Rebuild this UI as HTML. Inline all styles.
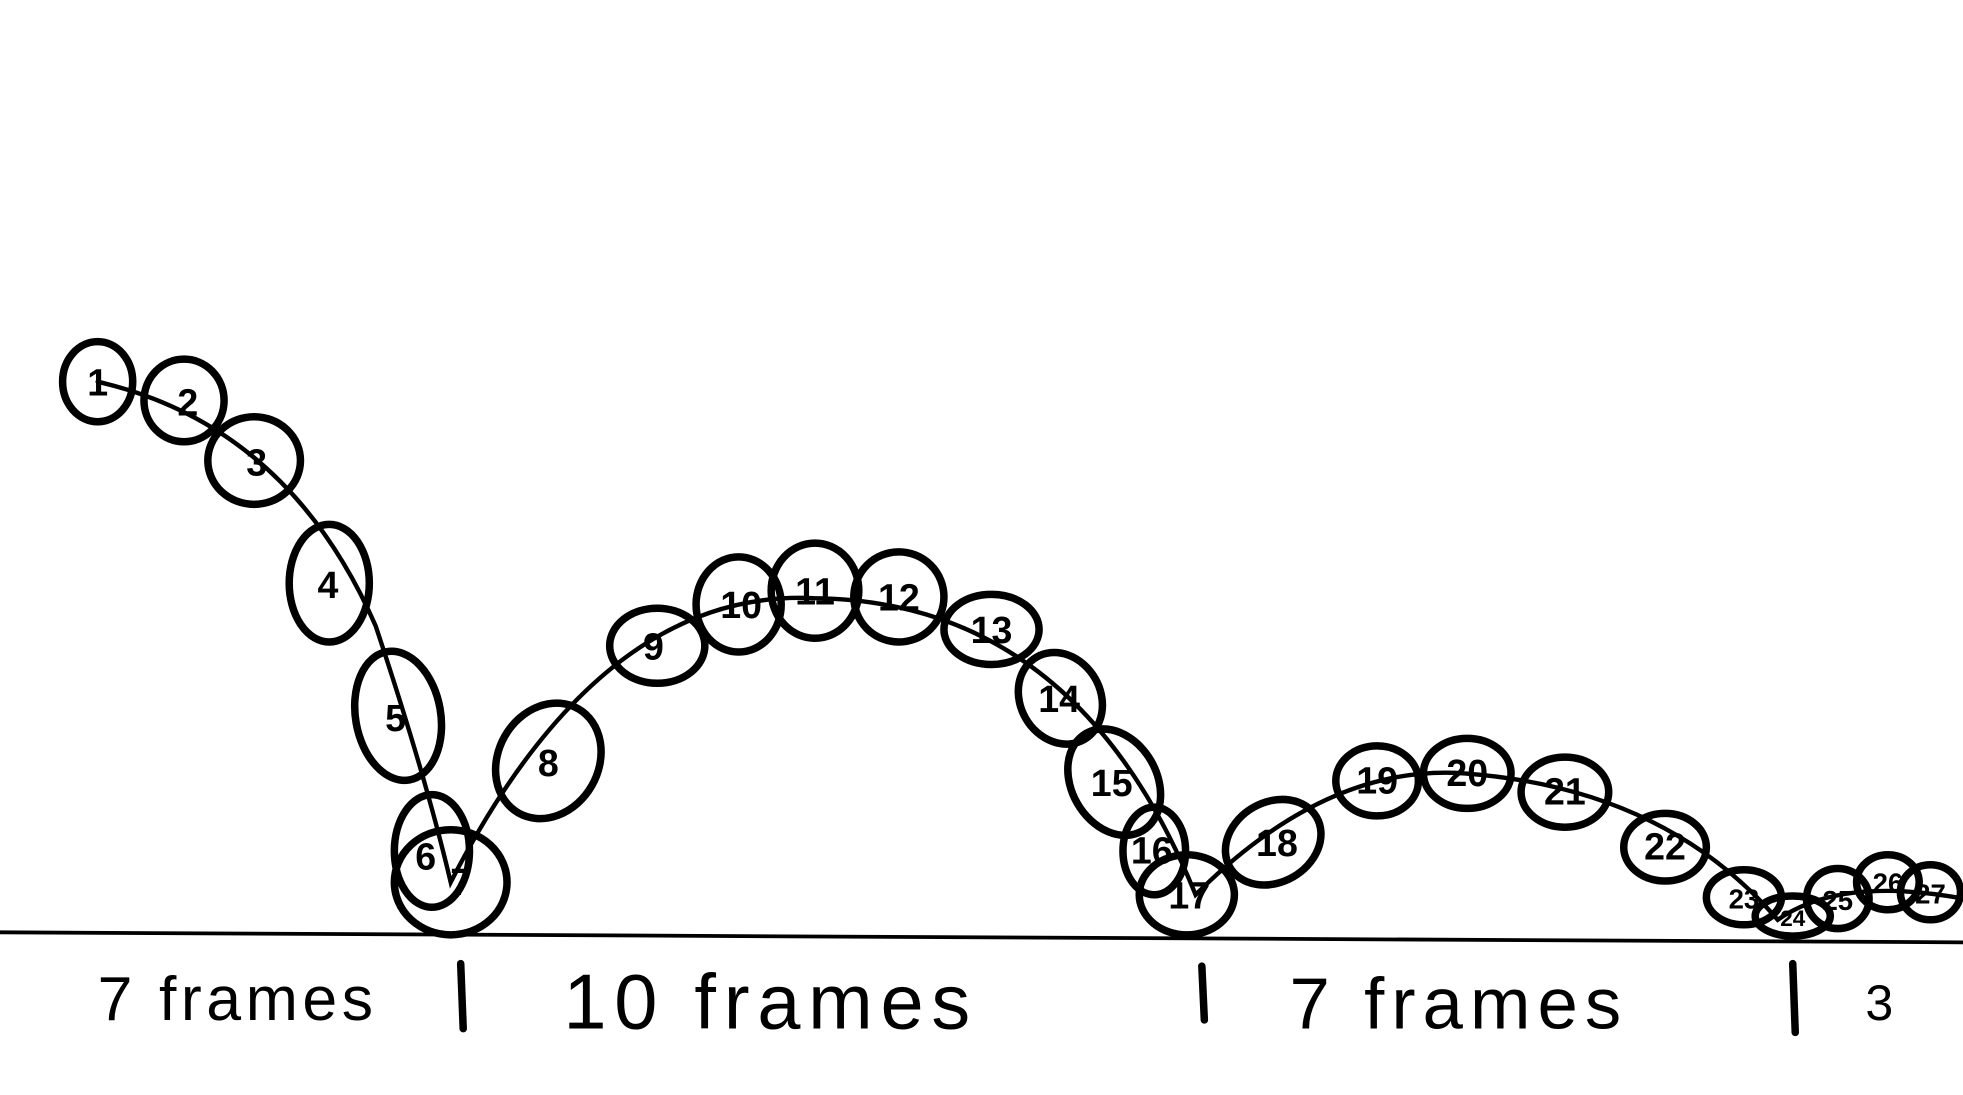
<!DOCTYPE html>
<html><head><meta charset="utf-8"><style>
html,body{margin:0;padding:0;background:#fff;width:1963px;height:1095px;overflow:hidden}
svg{display:block}
text{font-family:"Liberation Sans",sans-serif;fill:#000}
</style></head><body>
<svg width="1963" height="1095" viewBox="0 0 1568 875" preserveAspectRatio="none">
<g fill="none" stroke="#000" stroke-width="4" stroke-linecap="round">
<line x1="0" y1="745" x2="1568" y2="753" stroke-width="3"/>
<path d="M78 305 Q230 340 300 500 Q340 620 360 705 Q480 470 650 478 Q860 480 955 715 Q1060 610 1170 618 Q1330 630 1420 735 Q1470 700 1568 718" stroke-width="3.5"/>
<g stroke-width="6">
<ellipse cx="78" cy="305" rx="28" ry="32"/>
<ellipse cx="147" cy="320" rx="32" ry="33"/>
<ellipse cx="203" cy="368" rx="37" ry="35"/>
<ellipse cx="263" cy="466" rx="32" ry="47"/>
<ellipse cx="318" cy="572" rx="34" ry="52" transform="rotate(-10 318 572)"/>
<ellipse cx="345" cy="680" rx="30" ry="45"/>
<ellipse cx="360" cy="705" rx="45" ry="42"/>
<ellipse cx="438" cy="608" rx="40" ry="48" transform="rotate(30 438 608)"/>
<ellipse cx="525" cy="516" rx="38" ry="30"/>
<ellipse cx="590" cy="483" rx="34" ry="38"/>
<ellipse cx="651" cy="472" rx="35" ry="38"/>
<ellipse cx="718" cy="477" rx="36" ry="36"/>
<ellipse cx="792" cy="503" rx="38" ry="28"/>
<ellipse cx="847" cy="558" rx="32" ry="38" transform="rotate(-30 847 558)"/>
<ellipse cx="890" cy="625" rx="34" ry="45" transform="rotate(-30 890 625)"/>
<ellipse cx="922" cy="680" rx="25" ry="35"/>
<ellipse cx="948" cy="715" rx="38" ry="32"/>
<ellipse cx="1017" cy="673" rx="40" ry="32" transform="rotate(-30 1017 673)"/>
<ellipse cx="1100" cy="624" rx="33" ry="28"/>
<ellipse cx="1172" cy="618" rx="35" ry="28"/>
<ellipse cx="1250" cy="633" rx="35" ry="28"/>
<ellipse cx="1330" cy="677" rx="33" ry="27"/>
<ellipse cx="1393" cy="717" rx="30" ry="22"/>
<ellipse cx="1432" cy="732" rx="30" ry="16"/>
<ellipse cx="1468" cy="718" rx="25" ry="24"/>
<ellipse cx="1508" cy="705" rx="25" ry="22"/>
<ellipse cx="1542" cy="713" rx="24" ry="22"/>
</g>
<g stroke-width="6">
<line x1="368" y1="770" x2="370" y2="822"/>
<line x1="960" y1="772" x2="962" y2="815"/>
<line x1="1432" y1="770" x2="1434" y2="825"/>
</g>
</g>
<g font-size="30" font-weight="bold" text-anchor="middle">
<text x="78" y="316">1</text><text x="150" y="332">2</text><text x="205" y="380">3</text>
<text x="262" y="478">4</text><text x="316" y="584">5</text><text x="340" y="695">6</text>
<text x="368" y="715">7</text><text x="438" y="620">8</text><text x="522" y="527">9</text>
<text x="592" y="494">10</text><text x="651" y="483">11</text><text x="718" y="488">12</text>
<text x="792" y="514">13</text><text x="846" y="569">14</text><text x="888" y="636">15</text>
<text x="920" y="690">16</text><text x="950" y="726">17</text><text x="1020" y="684">18</text>
<text x="1100" y="634">19</text><text x="1172" y="628">20</text><text x="1250" y="643">21</text>
<text x="1330" y="687">22</text><text x="1393" y="726" font-size="22">23</text><text x="1432" y="740" font-size="18">24</text>
<text x="1468" y="727" font-size="22">25</text><text x="1508" y="713" font-size="22">26</text><text x="1542" y="722" font-size="22">27</text>
</g>
<text x="78" y="815" font-size="50" textLength="220" lengthAdjust="spacing">7 frames</text>
<text x="450" y="822" font-size="62" textLength="325" lengthAdjust="spacing">10 frames</text>
<text x="1030" y="822" font-size="58" textLength="265" lengthAdjust="spacing">7 frames</text>
<text x="1490" y="815" font-size="40">3</text>
</svg>
</body></html>
